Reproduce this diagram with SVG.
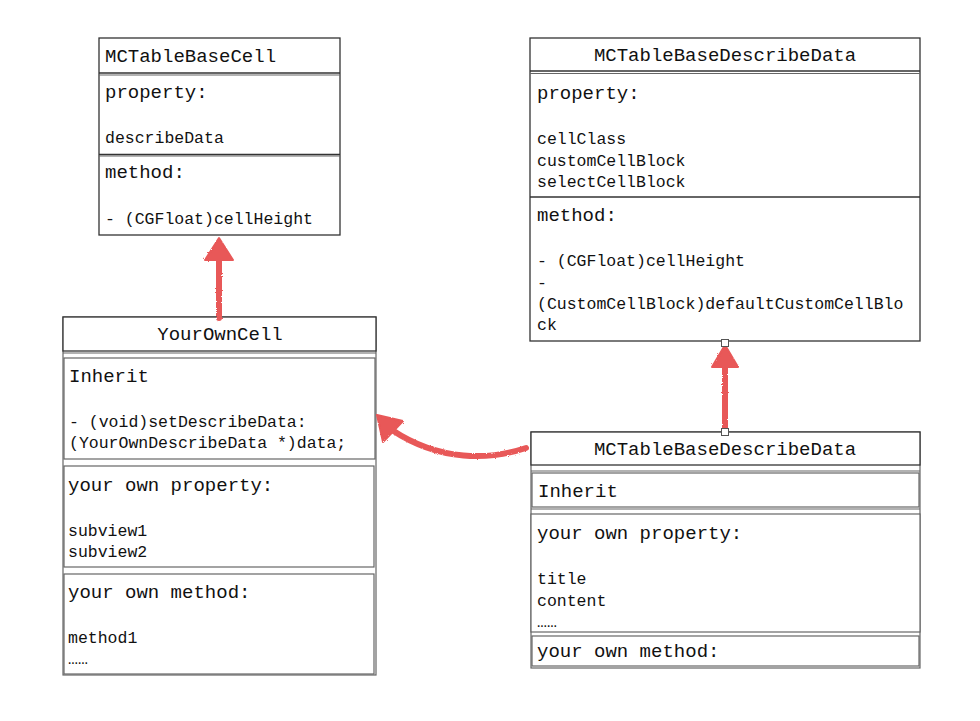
<svg xmlns="http://www.w3.org/2000/svg" width="980" height="721" viewBox="0 0 980 721">
<style>
.box{fill:#fff;stroke:#333;stroke-width:1.3}
.sec{fill:#fff;stroke:#666;stroke-width:1.2}
.t{font-family:"Liberation Mono","DejaVu Sans Mono",monospace;font-size:19px;fill:#111}
.s{font-family:"Liberation Mono","DejaVu Sans Mono",monospace;font-size:16.5px;fill:#111}
.c{text-anchor:middle}
.arr{fill:none;stroke:#e85858;stroke-width:6;stroke-linecap:round;stroke-linejoin:round}
.head{fill:#e85858;stroke:#e85858;stroke-width:2;stroke-linejoin:round}
.pt{fill:#fff;stroke:#555;stroke-width:1}
</style>
<defs>
<filter id="rough" x="-10%" y="-10%" width="120%" height="120%">
<feTurbulence type="fractalNoise" baseFrequency="0.9" numOctaves="2" seed="3" result="n"/>
<feDisplacementMap in="SourceGraphic" in2="n" scale="2.5"/>
</filter>
</defs>
<rect width="980" height="721" fill="#fff"/>

<g id="MCTableBaseCell">
<rect class="box" x="99" y="38" width="241" height="197"/>
<line class="box" x1="99" y1="73" x2="340" y2="73"/>
<line class="sec" x1="99" y1="75" x2="340" y2="75"/>
<line class="box" x1="99" y1="154.5" x2="340" y2="154.5"/>
<line class="sec" x1="99" y1="156" x2="340" y2="156"/>
<text class="t" x="105" y="62">MCTableBaseCell</text>
<text class="t" x="105" y="98">property:</text>
<text class="s" x="105" y="143">describeData</text>
<text class="t" x="105" y="178">method:</text>
<text class="s" x="105" y="224">- (CGFloat)cellHeight</text>
</g>

<g id="MCTableBaseDescribeData">
<rect class="box" x="530" y="38" width="390" height="303"/>
<line class="box" x1="530" y1="71" x2="920" y2="71"/>
<line class="sec" x1="530" y1="73.5" x2="920" y2="73.5"/>
<line class="box" x1="530" y1="197" x2="920" y2="197"/>
<text class="t c" x="725" y="61">MCTableBaseDescribeData</text>
<text class="t" x="537" y="99">property:</text>
<text class="s" x="537" y="144">cellClass</text>
<text class="s" x="537" y="166">customCellBlock</text>
<text class="s" x="537" y="187">selectCellBlock</text>
<text class="t" x="537" y="221">method:</text>
<text class="s" x="537" y="266">- (CGFloat)cellHeight</text>
<text class="s" x="537" y="288">-</text>
<text class="s" x="537" y="309">(CustomCellBlock)defaultCustomCellBlo</text>
<text class="s" x="537" y="330">ck</text>
</g>

<g id="YourOwnCell">
<rect class="sec" x="63" y="317" width="313" height="358"/>
<rect class="box" x="63" y="317" width="313" height="34"/>
<line class="sec" x1="63" y1="353" x2="376" y2="353"/>
<rect class="sec" x="64" y="358" width="311" height="101"/>
<rect class="sec" x="64" y="466" width="310" height="101"/>
<rect class="sec" x="64" y="574" width="310" height="100"/>
<text class="t c" x="220" y="340">YourOwnCell</text>
<text class="t" x="69" y="382">Inherit</text>
<text class="s" x="69" y="427">- (void)setDescribeData:</text>
<text class="s" x="69" y="448">(YourOwnDescribeData *)data;</text>
<text class="t" x="68" y="491">your own property:</text>
<text class="s" x="68" y="536">subview1</text>
<text class="s" x="68" y="557">subview2</text>
<text class="t" x="68" y="598">your own method:</text>
<text class="s" x="68" y="643">method1</text>
<text class="s" x="68" y="664">……</text>
</g>

<g id="YourOwnDescribeData">
<rect class="sec" x="531" y="432" width="389" height="236"/>
<rect class="box" x="531" y="432" width="389" height="33"/>
<line class="sec" x1="531" y1="471" x2="920" y2="471"/>
<rect class="sec" x="532" y="473" width="387" height="34"/>
<line class="sec" x1="531" y1="509" x2="920" y2="509"/>
<rect class="sec" x="531" y="514" width="389" height="118"/>
<rect class="sec" x="532" y="636" width="387" height="30"/>
<text class="t c" x="725" y="455">MCTableBaseDescribeData</text>
<text class="t" x="538" y="497">Inherit</text>
<text class="t" x="537" y="539">your own property:</text>
<text class="s" x="537" y="584">title</text>
<text class="s" x="537" y="606">content</text>
<text class="s" x="537" y="627">……</text>
<text class="t" x="537" y="657">your own method:</text>
</g>

<g id="connectors">
<g filter="url(#rough)">
<path class="arr" d="M219 318 L219 258"/>
<path class="head" d="M219 238 L233 260 L205 260 Z"/>
<path class="arr" d="M725 430 L725 364"/>
<path class="head" d="M725 345 L738 367 L712 367 Z"/>
<path class="arr" d="M526 448 C490 460 440 462 392 430"/>
<path class="head" d="M377 415 L403 421 L383 442 Z"/>
</g>
<rect class="pt" x="721.5" y="339.5" width="7" height="7"/>
<rect class="pt" x="721.5" y="428.5" width="7" height="7"/>
</g>
</svg>
